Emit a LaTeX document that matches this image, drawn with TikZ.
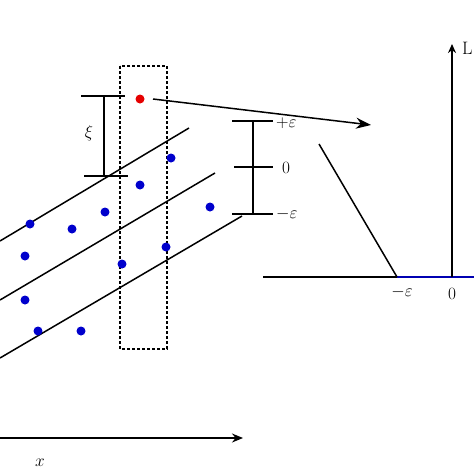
\documentclass[tikz,border=0pt]{standalone}
\usetikzlibrary{arrows.meta}
\begin{document}
\begin{tikzpicture}[x=1pt,y=-1pt,
  ln/.style={line width=1.5pt,black},
  dot/.style={circle,fill=blue!80!black,inner sep=0pt,minimum size=9pt},
  reddot/.style={circle,fill=red!90!black,inner sep=0pt,minimum size=9pt},
  lbl/.style={font=\fontsize{18}{20}\selectfont,inner sep=1pt}]
\useasboundingbox (0,0) rectangle (474,474);
% tube lines
\coordinate (u1) at (0,241); \coordinate (u2) at (189,128);
\coordinate (m1) at (0,300); \coordinate (m2) at (215,173);
\coordinate (l1) at (0,358); \coordinate (l2) at (242,216);
\draw[ln] (u1) -- (u2);
\draw[ln] (m1) -- (m2);
\draw[ln] (l1) -- (l2);
% dashed box
\draw[line width=1.1pt,dash pattern=on 3pt off 2pt] (120,66) rectangle (167,349);
% dots
\foreach \n/\p in {b1/{(171,158)},b2/{(140,185)},b3/{(105,212)},b4/{(30,224)},b5/{(72,229)},b6/{(210,207)},b7/{(25,256)},b8/{(166,247)},b9/{(122,264)},b10/{(25,300)},b11/{(38,331)},b12/{(81,331)}}
  \node[dot] (\n) at \p {};
\node[reddot] (r) at (140,99) {};
% xi bracket
\coordinate (xt1) at (81,96); \coordinate (xt2) at (125,96);
\coordinate (xb1) at (84,176); \coordinate (xb2) at (128,176);
\coordinate (xvt) at (104,96); \coordinate (xvb) at (104,176);
\draw[ln] (xt1) -- (xt2);
\draw[ln] (xb1) -- (xb2);
\draw[ln] (xvt) -- (xvb);
\node[lbl] (xi) at (89,133) {$\xi$};
% arrow
\coordinate (as) at (153,99);
\coordinate (ae) at (371,125);
\draw[ln,-{Stealth[length=15pt,width=11pt]}] (as) -- (ae);
% epsilon bracket
\coordinate (et1) at (232,121); \coordinate (et2) at (273,121);
\coordinate (em1) at (234,167); \coordinate (em2) at (273,167);
\coordinate (eb1) at (232,214); \coordinate (eb2) at (273,214);
\draw[ln] (et1) -- (et2);
\draw[ln] (em1) -- (em2);
\draw[ln] (eb1) -- (eb2);
\draw[ln] (253,121) -- (253,214);
\node[lbl,anchor=west] (lp) at (275,123) {$+\varepsilon$};
\node[lbl,anchor=west] (l0) at (281,168) {$0$};
\node[lbl,anchor=west] (lm) at (275,214) {$-\varepsilon$};
% loss plot
\coordinate (h1) at (263,277); \coordinate (hk) at (397,277); \coordinate (h2) at (474,277);
\coordinate (o) at (452,277); \coordinate (vt) at (452,44);
\coordinate (d1) at (319,144);
\draw[ln] (h1) -- (hk);
\draw[line width=1.5pt,blue!70!black] (hk) -- (h2);
\draw[ln] (d1) -- (hk);
\draw[ln,-{Stealth[length=9pt,width=8pt]}] (o) -- (vt);
\node[lbl,anchor=west] (L) at (461,48) {L};
\node[lbl] (kl) at (402,292) {$-\varepsilon$};
\node[lbl] (ol) at (452,294) {$0$};
% x axis
\coordinate (x1) at (0,438); \coordinate (x2) at (243,438);
\draw[ln,-{Stealth[length=11pt,width=9pt]}] (x1) -- (x2);
\node[lbl] (xl) at (40,463) {$x$};
\end{tikzpicture}
\end{document}
